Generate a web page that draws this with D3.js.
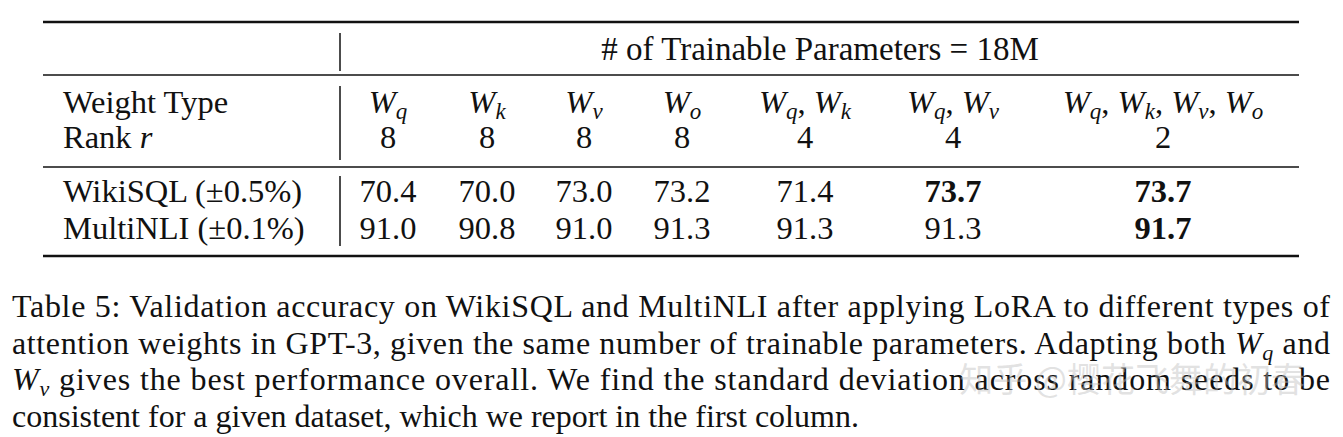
<!DOCTYPE html>
<html><head><meta charset="utf-8">
<script src="https://cdn.jsdelivr.net/npm/d3@7"></script>
<style>body{margin:0;background:#fff}svg{display:block}text{font-family:"Liberation Serif","DejaVu Serif",serif;fill:#111}</style>
</head><body><svg id="c" width="1343" height="437"></svg>
<script>
const weightTypes = [["q"],["k"],["v"],["o"],["q","k"],["q","v"],["q","k","v","o"]];
const ranks = [8,8,8,8,4,4,2];
const wikisql = [70.4,70.0,73.0,73.2,71.4,73.7,73.7];
const multinli = [91.0,90.8,91.0,91.3,91.3,91.3,91.7];
const rowLabels = ["WikiSQL (±0.5%)","MultiNLI (±0.1%)"];
const header = "# of Trainable Parameters = 18M";

const svg = d3.select("#c");
const x = d3.scaleOrdinal().domain(d3.range(7)).range([388,487,584,682,805,953,1163]);
const fs = 32.5;
function sub(sel, base, s, size){
  sel.append("tspan").attr("font-style","italic").text(base);
  sel.append("tspan").attr("font-style","italic").attr("font-size",size).attr("baseline-shift","-25%").text(s);
}
function W(sel, subs){
  subs.forEach((s,i)=>{
    if(i>0) sel.append("tspan").text(", ");
    sub(sel,"W",s,23);
  });
}
const line=(x1,x2,y,w)=>svg.append("line").attr("x1",x1).attr("x2",x2).attr("y1",y).attr("y2",y).attr("stroke","#111").attr("stroke-width",w);
line(43,1299,22,2.5); line(43,1299,75,1.5); line(43,1299,167,1.5); line(43,1299,256,2.5);
[[33,71],[86,160],[176,246]].forEach(([a,b])=>svg.append("line").attr("x1",340).attr("x2",340).attr("y1",a).attr("y2",b).attr("stroke","#111").attr("stroke-width",1.5));
svg.append("text").attr("x",820).attr("y",60).attr("text-anchor","middle").attr("font-size",33).text(header);
svg.append("text").attr("x",63).attr("y",113).attr("font-size",fs).text("Weight Type");
const rk=svg.append("text").attr("x",63).attr("y",148).attr("font-size",fs);
rk.append("tspan").text("Rank "); rk.append("tspan").attr("font-style","italic").text("r");
weightTypes.forEach((w,i)=>{
  const t=svg.append("text").attr("x",x(i)).attr("y",113).attr("text-anchor","middle").attr("font-size",fs);
  W(t,w);
  svg.append("text").attr("x",x(i)).attr("y",148).attr("text-anchor","middle").attr("font-size",fs).text(ranks[i]);
});
[wikisql,multinli].forEach((vals,r)=>{
  const y=[202,239][r];
  svg.append("text").attr("x",63).attr("y",y).attr("font-size",fs).text(rowLabels[r]);
  const mx=d3.max(vals);
  vals.forEach((v,i)=>svg.append("text").attr("x",x(i)).attr("y",y).attr("text-anchor","middle").attr("font-size",fs)
    .attr("font-weight",(v===mx&&i>=5)?"bold":null).text(v.toFixed(1)));
});
const cap=[
 [["Table 5: Validation accuracy on WikiSQL and MultiNLI after applying LoRA to different types of"]],
 [["attention weights in GPT-3, given the same number of trainable parameters. Adapting both "],["W","q"],[" and"]],
 [["W","v"],[" gives the best performance overall. We find the standard deviation across random seeds to be"]],
 [["consistent for a given dataset, which we report in the first column."]]
];
cap.forEach((parts,li)=>{
  const t=svg.append("text").attr("x",12).attr("y",317+li*36.5).attr("font-size",32);
  if(li<3) t.attr("textLength",1318).attr("lengthAdjust","spacing");
  parts.forEach(p=>{
    if(p.length===2) sub(t,p[0],p[1],22);
    else t.append("tspan").text(p[0]);
  });
});
svg.append("text").attr("x",1305).attr("y",392).attr("text-anchor","end").attr("font-size",34)
 .style("font-family","Noto Sans CJK SC").style("fill","rgba(190,190,190,0.45)").text("知乎 @樱花飞舞的初春");
</script></body></html>
